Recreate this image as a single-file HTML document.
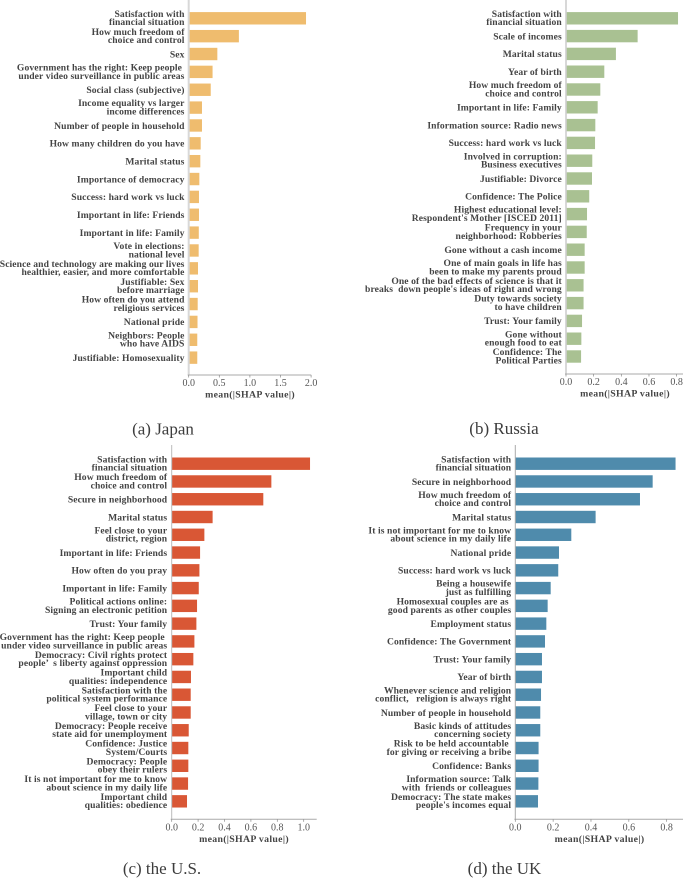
<!DOCTYPE html>
<html lang="en">
<head>
<meta charset="utf-8">
<title>Mean SHAP feature importance by country</title>
<style>
  html, body { margin: 0; padding: 0; background: #fff; width: 685px; height: 880px; overflow: hidden; }
  svg { display: block; filter: blur(0.3px); }
  text { font-family: "Liberation Serif", serif; fill: #444; white-space: pre; }
  .cat { font-size: 9.6px; font-weight: bold; letter-spacing: 0.09px; text-anchor: end; }
  .tick { font-size: 10px; text-anchor: middle; fill: #555; }
  .title { font-size: 9.8px; font-weight: bold; text-anchor: middle; letter-spacing: 0.32px; }
  .caption { font-size: 17px; text-anchor: middle; fill: #3c3c3c; }
</style>
</head>
<body>
<svg id="chart" xmlns="http://www.w3.org/2000/svg" width="685" height="880" viewBox="0 0 685 880"></svg>
<script>
const japanCategories = ["Satisfaction with\nfinancial situation","How much freedom of\nchoice and control","Sex","Government has the right: Keep people\u00a0\nunder video surveillance in public areas","Social class (subjective)","Income equality vs larger\nincome differences","Number of people in household","How many children do you have","Marital status","Importance of democracy","Success: hard work vs luck","Important in life: Friends","Important in life: Family","Vote in elections:\nnational level","Science and technology are making our lives\nhealthier, easier, and more comfortable","Justifiable: Sex\nbefore marriage","How often do you attend\nreligious services","National pride","Neighbors: People\nwho have AIDS","Justifiable: Homosexuality"];
const japanValues = [1.917,0.82,0.468,0.39,0.36,0.217,0.217,0.196,0.19,0.174,0.168,0.168,0.165,0.163,0.152,0.152,0.147,0.144,0.14,0.14];
const japanTicks = ["0.0","0.5","1.0","1.5","2.0"];

const russiaCategories = ["Satisfaction with\nfinancial situation","Scale of incomes","Marital status","Year of birth","How much freedom of\nchoice and control","Important in life: Family","Information source: Radio news","Success: hard work vs luck","Involved in corruption:\nBusiness executives","Justifiable: Divorce","Confidence: The Police","Highest educational level:\nRespondent's Mother [ISCED 2011]","Frequency in your\nneighborhood: Robberies","Gone without a cash income","One of main goals in life has\nbeen to make my parents proud","One of the bad effects of science is that it\nbreaks  down people's ideas of right and wrong","Duty towards society\nto have children","Trust: Your family","Gone without\nenough food to eat","Confidence: The\nPolitical Parties"];
const russiaValues = [0.81,0.518,0.361,0.277,0.248,0.229,0.212,0.21,0.19,0.188,0.168,0.152,0.15,0.135,0.135,0.127,0.127,0.116,0.111,0.109];
const russiaTicks = ["0.0","0.2","0.4","0.6","0.8"];

const usCategories = ["Satisfaction with\nfinancial situation","How much freedom of\nchoice and control","Secure in neighborhood","Marital status","Feel close to your\ndistrict, region","Important in life: Friends","How often do you pray","Important in life: Family","Political actions online:\nSigning an electronic petition","Trust: Your family","Government has the right: Keep people\u00a0\nunder video surveillance in public areas","Democracy: Civil rights protect\npeople\u2019  s liberty against oppression","Important child\nqualities: independence","Satisfaction with the\npolitical system performance","Feel close to your\nvillage, town or city","Democracy: People receive\nstate aid for unemployment","Confidence: Justice\nSystem/Courts","Democracy: People\nobey their rulers","It is not important for me to know\nabout science in my daily life","Important child\nqualities: obedience"];
const usValues = [1.048,0.755,0.694,0.31,0.2475,0.215,0.21,0.205,0.192,0.187,0.172,0.164,0.146,0.144,0.144,0.129,0.126,0.126,0.124,0.116];
const usTicks = ["0.0","0.2","0.4","0.6","0.8","1.0"];

const ukCategories = ["Satisfaction with\nfinancial situation","Secure in neighborhood","How much freedom of\nchoice and control","Marital status","It is not important for me to know\nabout science in my daily life","National pride","Success: hard work vs luck","Being a housewife\njust as fulfilling","Homosexual couples are as\u00a0\ngood parents as other couples","Employment status","Confidence: The Government","Trust: Your family","Year of birth","Whenever science and religion\nconflict,   religion is always right","Number of people in household","Basic kinds of attitudes\nconcerning society","Risk to be held accountable\u00a0\nfor giving or receiving a bribe","Confidence: Banks","Information source: Talk\nwith  friends or colleagues","Democracy: The state makes\npeople's incomes equal"];
const ukValues = [0.847,0.726,0.659,0.4245,0.296,0.231,0.227,0.187,0.171,0.164,0.157,0.141,0.141,0.136,0.132,0.132,0.123,0.123,0.122,0.12];
const ukTicks = ["0.0","0.2","0.4","0.6","0.8"];

const SVG_NS = "http://www.w3.org/2000/svg";
const root = document.getElementById("chart");

function make(tag, parent, attrs) {
  const el = document.createElementNS(SVG_NS, tag);
  for (const k in attrs) el.setAttribute(k, attrs[k]);
  parent.appendChild(el);
  return el;
}

function drawPanel(p) {
  const g = make("g", root, {});
  
  

  const xScale = v => p.x0 + (v * p.pxPerUnit);
  const yBand = i => p.firstY + i * p.step;

  p.values.forEach((v, i) => {
    const cy = yBand(i);
    const bar = make("rect", g, { x: p.x0, y: cy - 6.2, width: xScale(v) - p.x0, height: 12.4, fill: p.color });
    
    

    const lines = p.categories[i].split("\n");
    const offsets = lines.length === 1 ? [3.3] : [-1.4, 6.9];
    lines.forEach((line, j) => {
      const t = make("text", g, { class: "cat", x: p.labelX, y: cy + offsets[j] });
      t.textContent = line;
      
      
    });
  });

  const yAxis = make("line", g, { x1: p.x0, x2: p.x0, y1: p.axisTop, y2: p.axisY, stroke: p.axisColor, "stroke-width": p.axisWidth });
  
  

  const xAxis = make("line", g, { x1: p.x0 - 1, x2: p.axisEnd, y1: p.axisY, y2: p.axisY, stroke: "#aaa", "stroke-width": 1 });
  
  

  p.ticks.forEach(label => {
    const x = xScale(parseFloat(label));
    const mark = make("line", g, { x1: x, x2: x, y1: p.axisY, y2: p.axisY + 2.5, stroke: "#888", "stroke-width": 0.7 });
    
    
    const t = make("text", g, { class: "tick", x: x, y: p.axisY + 11.2 });
    t.textContent = label;
    
    
  });

  const title = make("text", g, { class: "title", x: p.titleX, y: p.axisY + 22.5 });
  title.textContent = "mean(|SHAP value|)";
  
  

  const cap = make("text", g, { class: "caption", x: p.capX, y: p.capY });
  cap.textContent = p.caption;
  
  
}

drawPanel({ slug: "japan", categories: japanCategories, values: japanValues, ticks: japanTicks, color: "#efbc6e",
  x0: 188.7, pxPerUnit: 61.2, axisEnd: 311.2, labelX: 184.5, firstY: 18.3, step: 17.86, axisTop: 0, axisY: 375,
  axisColor: "#d8d8d8", axisWidth: 2, titleX: 250, capX: 163, capY: 434.5, caption: "(a) Japan" });

drawPanel({ slug: "russia", categories: russiaCategories, values: russiaValues, ticks: russiaTicks, color: "#a9c192",
  x0: 566, pxPerUnit: 138.3, axisEnd: 683, labelX: 561.8, firstY: 18.3, step: 17.8, axisTop: 0, axisY: 374,
  axisColor: "#cfcfcf", axisWidth: 1.6, titleX: 625, capX: 504, capY: 434, caption: "(b) Russia" });

drawPanel({ slug: "us", categories: usCategories, values: usValues, ticks: usTicks, color: "#d95735",
  x0: 171.7, pxPerUnit: 132, axisEnd: 316.7, labelX: 167.2, firstY: 463.7, step: 17.77, axisTop: 445, axisY: 819.3,
  axisColor: "#bbb", axisWidth: 1, titleX: 244, capX: 162, capY: 874, caption: "(c) the U.S." });

drawPanel({ slug: "uk", categories: ukCategories, values: ukValues, ticks: ukTicks, color: "#4f8bac",
  x0: 515.3, pxPerUnit: 189.2, axisEnd: 683, labelX: 511.2, firstY: 463.7, step: 17.77, axisTop: 445, axisY: 819.3,
  axisColor: "#aaa", axisWidth: 1, titleX: 599.5, capX: 504.5, capY: 874, caption: "(d) the UK" });
</script>
</body>
</html>
